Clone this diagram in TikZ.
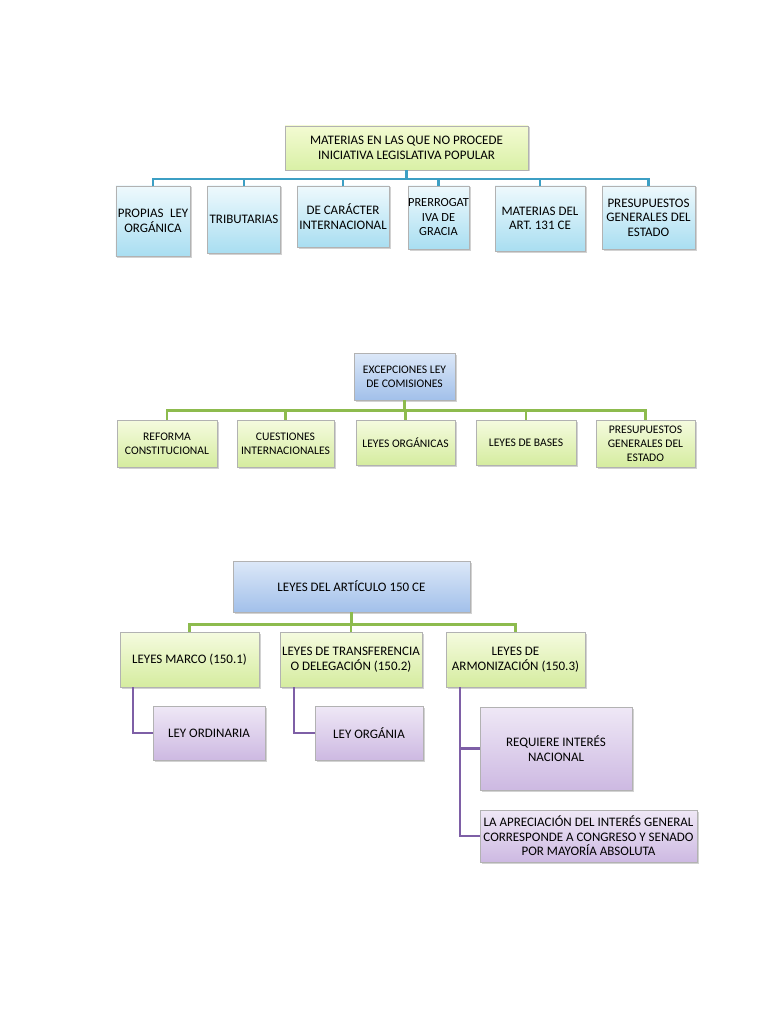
\documentclass[tikz,border=0pt]{standalone}
\usepackage{fontspec}
\setmainfont{Carlito}
\usetikzlibrary{shadows}

\definecolor{linkblue}{HTML}{3C9FC4}
\definecolor{linkgreen}{HTML}{8DBB4E}
\definecolor{linkpurple}{HTML}{7E5FA6}
\definecolor{limetop}{HTML}{F3FBD2}
\definecolor{limebot}{HTML}{D9F0A6}
\definecolor{cyantop}{HTML}{EEF9FD}
\definecolor{cyanbot}{HTML}{A9DEF1}
\definecolor{bluetop}{HTML}{DCE8F8}
\definecolor{bluebot}{HTML}{A2C0EA}
\definecolor{greentop}{HTML}{F5FBDF}
\definecolor{greenbot}{HTML}{D5EC9F}
\definecolor{lilactop}{HTML}{EFE8F6}
\definecolor{lilacbot}{HTML}{CDB9E2}

\tikzset{
  box/.style={draw=gray!60, line width=0.6pt, align=center, inner sep=2pt,
    font=\fontsize{13}{14.5}\selectfont,
    drop shadow={shadow xshift=1.5pt, shadow yshift=-1.5pt, opacity=0.35}},
  smalltext/.style={font=\fontsize{11.6}{14}\selectfont},
  limebox/.style={box, top color=limetop, bottom color=limebot},
  cyanbox/.style={box, top color=cyantop, bottom color=cyanbot},
  bluebox/.style={box, top color=bluetop, bottom color=bluebot},
  greenbox/.style={box, top color=greentop, bottom color=greenbot},
  lilacbox/.style={box, top color=lilactop, bottom color=lilacbot},
  link/.style={line width=2.4pt},
}

\begin{document}
\begin{tikzpicture}[x=1pt, y=-1pt]
  % page
  \fill[white] (0,0) rectangle (768,1024);
  \useasboundingbox (0,0) rectangle (768,1024);

  % first chart
  \node[limebox, minimum width=243, minimum height=44] (materias) at (406.5,148)
    {MATERIAS EN LAS QUE NO PROCEDE\\INICIATIVA LEGISLATIVA POPULAR};
  \node[cyanbox, minimum width=72, minimum height=70] (propias) at (153,221)
    {PROPIAS\enspace LEY\\ORGÁNICA};
  \node[cyanbox, minimum width=72, minimum height=67] (tributarias) at (244,219.5)
    {TRIBUTARIAS};
  \node[cyanbox, minimum width=92, minimum height=61] (caracter) at (343,216.5)
    {DE CARÁCTER\\INTERNACIONAL};
  \node[cyanbox, inner xsep=0pt, font=\fontsize{12.4}{14.5}\selectfont,
    minimum width=61, minimum height=63] (gracia) at (438.5,217.5)
    {PRERROGAT\\IVA DE\\GRACIA};
  \node[cyanbox, minimum width=90, minimum height=65] (articulo) at (540,218.5)
    {MATERIAS DEL\\ART. 131 CE};
  \node[cyanbox, minimum width=93, minimum height=63] (presupuestos) at (648.5,217.5)
    {PRESUPUESTOS\\GENERALES DEL\\ESTADO};
  \foreach \n in {propias,tributarias,caracter,gracia,articulo,presupuestos}
    \draw[link, linkblue] (materias.south) -- ++(0,9) -| (\n.north);

  % second chart
  \node[bluebox, smalltext, minimum width=101, minimum height=47] (excepciones) at (404.5,376.5)
    {EXCEPCIONES LEY\\DE COMISIONES};
  \node[greenbox, smalltext, minimum width=100, minimum height=47] (reforma) at (167,443.5)
    {REFORMA\\CONSTITUCIONAL};
  \node[greenbox, smalltext, minimum width=97, minimum height=47] (cuestiones) at (285.5,443.5)
    {CUESTIONES\\INTERNACIONALES};
  \node[greenbox, smalltext, minimum width=99, minimum height=45] (organicas) at (405.5,442.5)
    {LEYES ORGÁNICAS};
  \node[greenbox, smalltext, minimum width=100, minimum height=45] (bases) at (526,442.5)
    {LEYES DE BASES};
  \node[greenbox, smalltext, minimum width=99, minimum height=47] (estado) at (645.5,443.5)
    {PRESUPUESTOS\\GENERALES DEL\\ESTADO};
  \foreach \n in {reforma,cuestiones,organicas,bases,estado}
    \draw[link, linkgreen] (excepciones.south) -- ++(0,10) -| (\n.north);

  % third chart
  \node[bluebox, minimum width=237, minimum height=51] (leyes) at (351.5,586.5)
    {LEYES DEL ARTÍCULO 150 CE};
  \node[greenbox, minimum width=139, minimum height=55] (marco) at (189.5,659.5)
    {LEYES MARCO (150.1)};
  \node[greenbox, minimum width=142, minimum height=55] (transferencia) at (351,659.5)
    {LEYES DE TRANSFERENCIA\\O DELEGACIÓN (150.2)};
  \node[greenbox, minimum width=139, minimum height=55] (armonizacion) at (515.5,659.5)
    {LEYES DE\\ARMONIZACIÓN (150.3)};
  \foreach \n in {marco,transferencia,armonizacion}
    \draw[link, linkgreen] (leyes.south) -- ++(0,12) -| (\n.north);

  \node[lilacbox, minimum width=112, minimum height=54] (ordinaria) at (209,733)
    {LEY ORDINARIA};
  \node[lilacbox, minimum width=108, minimum height=54] (organia) at (369,733)
    {LEY ORGÁNIA};
  \node[lilacbox, minimum width=152, minimum height=83] (interes) at (556,748.5)
    {REQUIERE INTERÉS\\NACIONAL};
  \node[lilacbox, minimum width=217, minimum height=52] (apreciacion) at (588.5,836)
    {LA APRECIACIÓN DEL INTERÉS GENERAL\\CORRESPONDE A CONGRESO Y SENADO\\POR MAYORÍA ABSOLUTA};
  \draw[link, linkpurple] ([xshift=13pt]marco.south west) |- (ordinaria.west);
  \draw[link, linkpurple] ([xshift=14pt]transferencia.south west) |- (organia.west);
  \draw[link, linkpurple] ([xshift=14pt]armonizacion.south west) |- (interes.west);
  \draw[link, linkpurple] ([xshift=14pt]armonizacion.south west) |- (apreciacion.west);
\end{tikzpicture}
\end{document}
